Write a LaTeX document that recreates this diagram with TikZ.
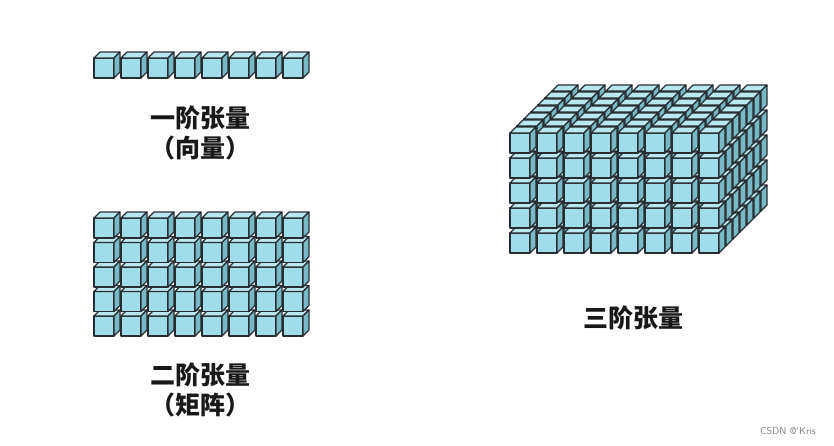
\documentclass[tikz,border=0pt]{standalone}
\usepackage{fontspec}
\usetikzlibrary{positioning}
\newfontfamily\cjk{Noto Sans CJK SC}
\definecolor{cubefront}{RGB}{160,220,234}
\definecolor{cubetop}{RGB}{185,232,242}
\definecolor{cubeside}{RGB}{120,185,200}
\definecolor{cubeline}{RGB}{40,45,50}
% one small cube, front face top-left at (#1,#2)
\newcommand{\cubeat}[2]{%
  \filldraw[cubeface, fill=cubefront] (#1,#2) rectangle ++(20,20);
  \filldraw[cubeface, fill=cubetop] (#1,#2) -- ++(6,-6) -- ++(20,0) -- ++(-6,6) -- cycle;
  \filldraw[cubeface, fill=cubeside] (#1+20,#2) -- ++(6,-6) -- ++(0,20) -- ++(-6,6) -- cycle;
}
\begin{document}
\begin{tikzpicture}[x=1pt, y=-1pt,
    cubeface/.style={draw=cubeline, line width=1.1pt, line join=round},
    label/.style={font=\cjk\bfseries\fontsize{25}{30}\selectfont, text=black!90}]
  \useasboundingbox (0,0) rectangle (834,445);

  % vector
  \foreach \c in {0,...,7} {\cubeat{94+27*\c}{58}}
  \node[label] (vec) at (200,118) {一阶张量};
  \node[label, below=-1pt of vec] (veclab) {（向量）};

  % matrix
  \foreach \r in {4,...,0} {
    \foreach \c in {0,...,7} {\cubeat{94+27*\c}{218+24.5*\r}}
  }
  \node[label] (mat) at (200,375) {二阶张量};
  \node[label, below=-1pt of mat] (matlab) {（矩阵）};

  % 3rd order
  \foreach \k in {6,...,0} {
    \foreach \r in {4,...,0} {
      \foreach \c in {0,...,7} {\cubeat{510+27*\c+7*\k}{133+25*\r-7*\k}}
    }
  }
  \node[label] (cub) at (633,318) {三阶张量};

  \node[font=\sffamily\fontsize{10}{12}\selectfont, text=gray] (mark) at (788,431) {CSDN @`Kris};
\end{tikzpicture}
\end{document}
